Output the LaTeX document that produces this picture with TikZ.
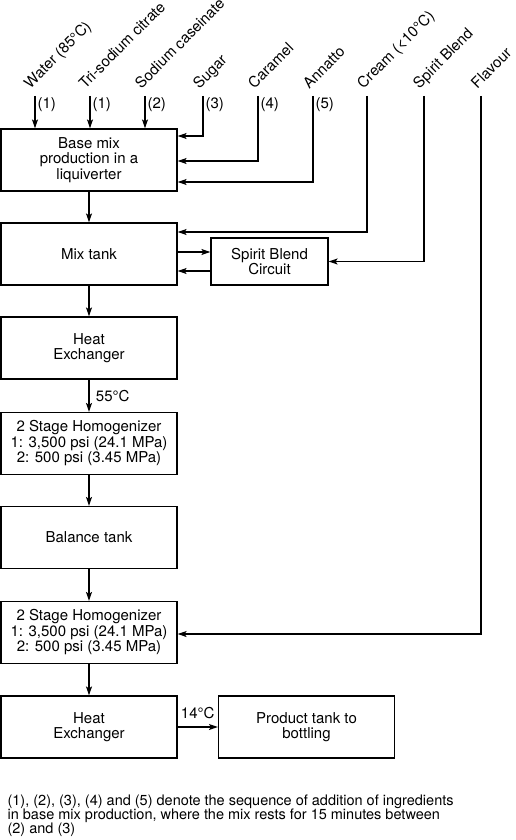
\documentclass[tikz,border=0pt]{standalone}
\usepackage{fontspec}
\setmainfont{TeX Gyre Heros}
\usetikzlibrary{arrows.meta}

\begin{document}
\begin{tikzpicture}[
        x=1pt, y=-1pt, line width=1.2pt,
        font=\fontsize{15}{15.5}\selectfont,
        >={Stealth[length=9pt,width=6pt,inset=2pt]},
        box/.style={rectangle, draw, minimum width=176pt, minimum height=62pt, align=center, inner sep=1pt},
        circuit/.style={rectangle, draw, minimum width=117pt, minimum height=47pt, align=center, inner sep=1pt},
        ingredient/.style={rotate=45, anchor=base west, inner sep=0pt},
        order/.style={anchor=west, inner sep=1pt}
    ]
        \useasboundingbox (0,0) rectangle (515,840);

        % process line
        \node[box] (base) at (89,160) {Base mix\\production in a\\liquiverter};
        \node[box] (mix) at (89,254) {Mix tank};
        \node[circuit] (spirit) at (269.5,261.5) {Spirit Blend\\Circuit};
        \node[box] (hex1) at (89,348) {Heat\\Exchanger};
        \node[box] (homog1) at (89,443.5) {2 Stage Homogenizer\\1: 3,500 psi (24.1 MPa)\\2: 500 psi (3.45 MPa)};
        \node[box] (balance) at (89,537.5) {Balance tank};
        \node[box] (homog2) at (89,632.5) {2 Stage Homogenizer\\1: 3,500 psi (24.1 MPa)\\2: 500 psi (3.45 MPa)};
        \node[box] (hex2) at (89,727) {Heat\\Exchanger};
        \node[box] (product) at (306.5,727) {Product tank to\\bottling};

        % ingredients
        \coordinate (water-in) at (35,96);
        \coordinate (citrate-in) at (90,96);
        \coordinate (caseinate-in) at (145,96);
        \coordinate (sugar-in) at (203,96);
        \coordinate (caramel-in) at (258,96);
        \coordinate (annatto-in) at (313,96);
        \coordinate (cream-in) at (367,96);
        \coordinate (blend-in) at (424,96);
        \coordinate (flavour-in) at (481,96);

        \node[ingredient] (water) at (30,89.5) {Water (85°C)};
        \node[ingredient] (citrate) at (85,89.5) {Tri-sodium citrate};
        \node[ingredient] (caseinate) at (141,89.5) {Sodium caseinate};
        \node[ingredient] (sugar) at (199,89.5) {Sugar};
        \node[ingredient] (caramel) at (254,89.5) {Caramel};
        \node[ingredient] (annatto) at (309,89.5) {Annatto};
        \node[ingredient] (cream) at (363,89.5) {Cream (<10°C)};
        \node[ingredient] (blend) at (419,89.5) {Spirit Blend};
        \node[ingredient] (flavour) at (477,89.5) {Flavour};

        \node[order] (o-water) at (36,105) {(1)};
        \node[order] (o-citrate) at (91,105) {(1)};
        \node[order] (o-caseinate) at (146,105) {(2)};
        \node[order] (o-sugar) at (204,105) {(3)};
        \node[order] (o-caramel) at (259,105) {(4)};
        \node[order] (o-annatto) at (314,105) {(5)};

        \draw[->] (water-in) -- (water-in |- base.north);
        \draw[->] (citrate-in) -- (citrate-in |- base.north);
        \draw[->] (caseinate-in) -- (caseinate-in |- base.north);
        \draw[->] (sugar-in) |- (base.east |- 0,136);
        \draw[->] (caramel-in) |- (base.east |- 0,161);
        \draw[->] (annatto-in) |- (base.east |- 0,182);
        \draw[->] (cream-in) |- (mix.east |- 0,232);
        \draw[->] (blend-in) |- (spirit.east);
        \draw[->] (flavour-in) |- (homog2.east |- 0,634);

        \draw[->] (base) -- (mix);
        \draw[->] (mix.east |- 0,252) -- (spirit.west |- 0,252);
        \draw[->] (spirit.west |- 0,271) -- (mix.east |- 0,271);
        \draw[->] (mix) -- (hex1);
        \draw[->] (hex1) -- node[right, xshift=3pt] {55°C} (homog1);
        \draw[->] (homog1) -- (balance);
        \draw[->] (balance) -- (homog2);
        \draw[->] (homog2) -- (hex2);
        \draw[->] (hex2) -- node[above, yshift=4pt] {14°C} (product);

        \node[anchor=north west, align=left, inner sep=0pt, font=\fontsize{14.5}{14}\selectfont] (note) at (7,794)
            {(1), (2), (3), (4) and (5) denote the sequence of addition of ingredients\\in base mix production, where the mix rests for 15 minutes between\\(2) and (3)};
    \end{tikzpicture}
\end{document}
